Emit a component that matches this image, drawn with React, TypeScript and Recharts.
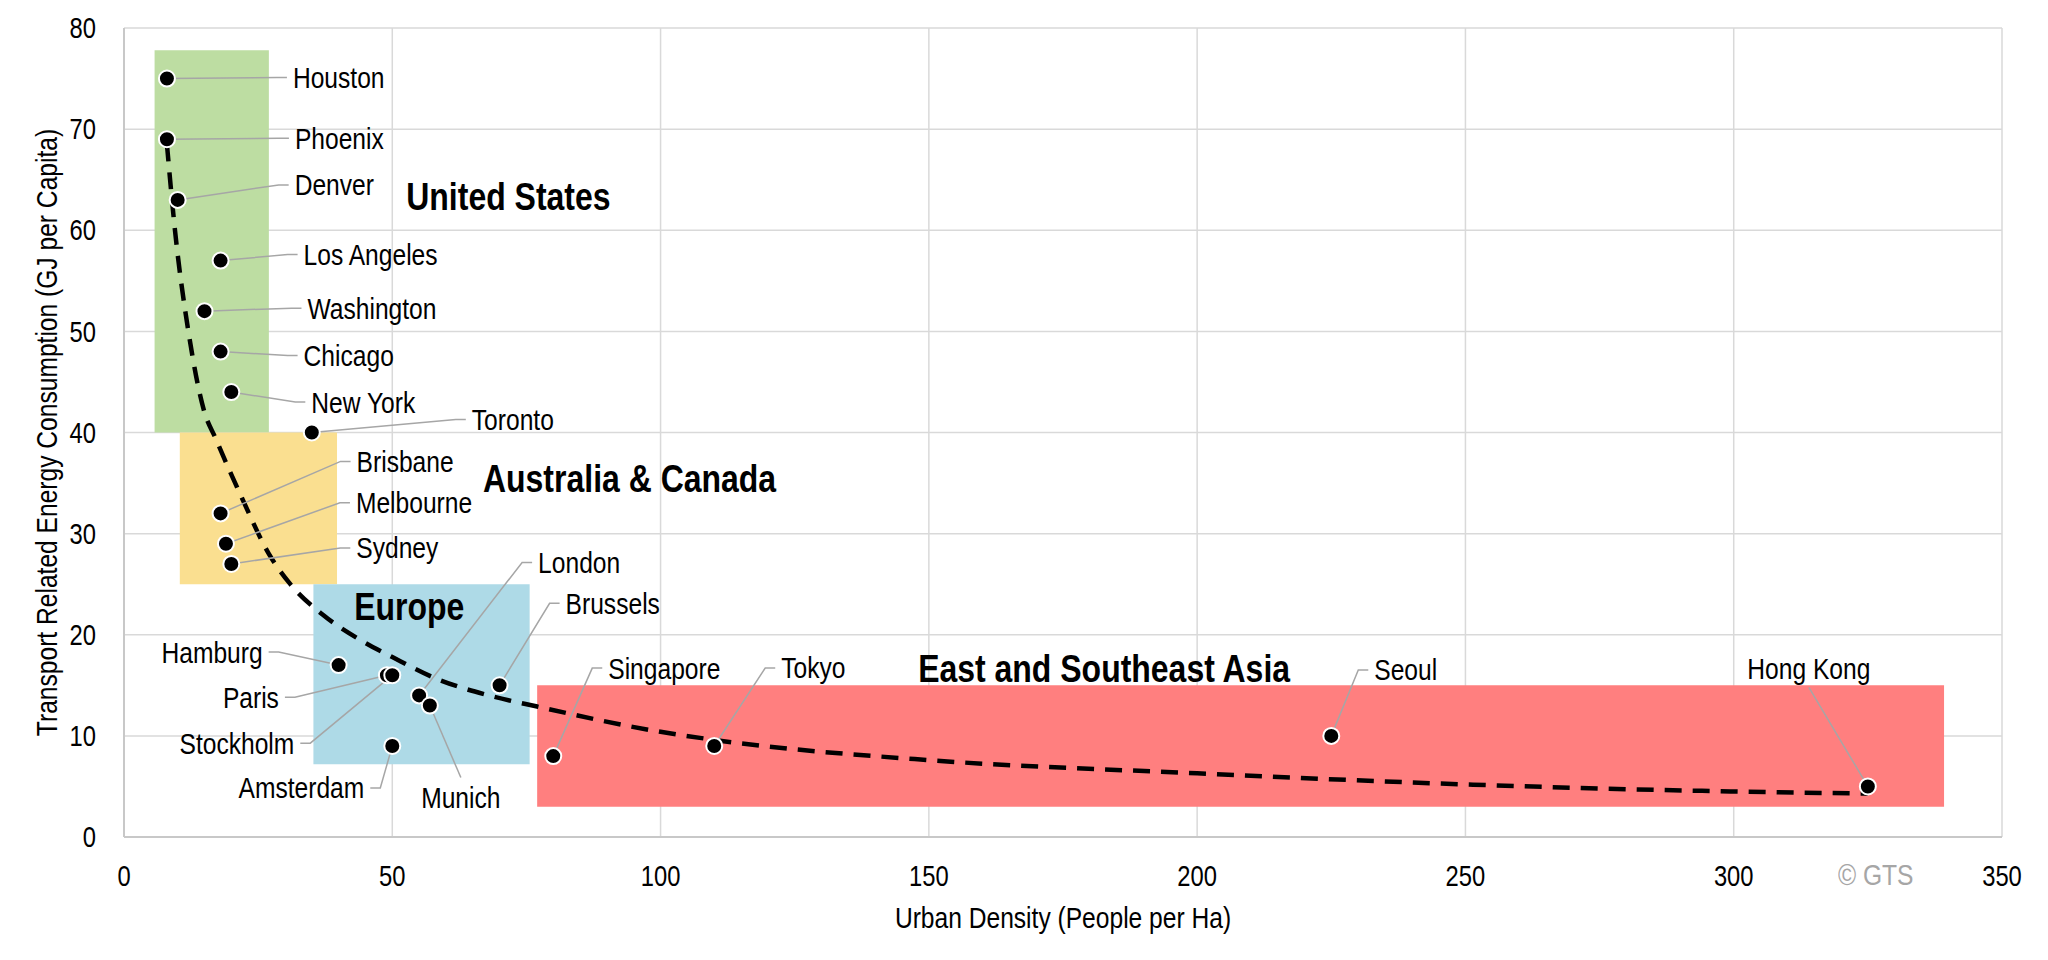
import { CartesianGrid, ReferenceArea, Scatter, ScatterChart, XAxis, YAxis } from 'recharts';

// city data
const cities = [
  'Houston', 'Phoenix', 'Denver', 'Los Angeles', 'Washington', 'Chicago', 'New York', 'Toronto',
  'Brisbane', 'Melbourne', 'Sydney', 'London', 'Brussels', 'Hamburg', 'Paris', 'Stockholm',
  'Amsterdam', 'Munich', 'Singapore', 'Tokyo', 'Seoul', 'Hong Kong',
];
const density = [8, 8, 10, 18, 15, 18, 20, 35, 18, 19, 20, 55, 70, 40, 49, 50, 50, 57, 80, 110, 225, 325];
const energy = [75, 69, 63, 57, 52, 48, 44, 40, 32, 29, 27, 14, 15, 17, 16, 16, 9, 13, 8, 9, 10, 5];

// dashed trend curve, read at points along the line
const trendDensity = [8, 9.5, 12, 15, 17, 22, 27, 31, 37, 44, 50, 58, 68, 77, 100, 110, 150, 200, 250, 300, 325];
const trendEnergy = [68.5, 60, 50, 42, 39.5, 33.5, 28, 25, 22, 19.5, 17.8, 15.7, 14, 12.9, 10.4, 9.6, 7.6, 6.3, 5.2, 4.5, 4.3];

// regional boxes
const regions = ['United States', 'Australia & Canada', 'Europe', 'East and Southeast Asia'];
const regionX1 = [5.7, 10.4, 35.3, 77];
const regionX2 = [27, 39.7, 75.6, 339.2];
const regionY1 = [40, 25, 7.2, 3];
const regionY2 = [77.8, 40, 25, 15];
const regionTitleX = [52.6, 66.9, 42.9, 148];
const regionTitleY = [63.4, 35.5, 22.8, 16.7];

const xTicks = [0, 50, 100, 150, 200, 250, 300, 350];
const yTicks = [0, 10, 20, 30, 40, 50, 60, 70, 80];

const regionColors = ['#BDDDA2', '#FADF90', '#AEDAE7', '#FF7F7F'];

// label placement relative to the dot (px)
const placement: Record<string, { side: string; dx: number; dy: number }> = {
  Houston: { side: 'right', dx: 126, dy: -1 },
  Phoenix: { side: 'right', dx: 128, dy: -1 },
  Denver: { side: 'right', dx: 117, dy: -15 },
  'Los Angeles': { side: 'right', dx: 83, dy: -6 },
  Washington: { side: 'right', dx: 103, dy: -3 },
  Chicago: { side: 'right', dx: 83, dy: 4 },
  'New York': { side: 'right', dx: 80, dy: 10 },
  Toronto: { side: 'right', dx: 160, dy: -13 },
  Brisbane: { side: 'right', dx: 136, dy: -52 },
  Melbourne: { side: 'right', dx: 130, dy: -41 },
  Sydney: { side: 'right', dx: 125, dy: -16 },
  London: { side: 'right', dx: 119, dy: -133 },
  Brussels: { side: 'right', dx: 66, dy: -82 },
  Hamburg: { side: 'left', dx: -76, dy: -13 },
  Paris: { side: 'left', dx: -108, dy: 22 },
  Stockholm: { side: 'left', dx: -98, dy: 68 },
  Amsterdam: { side: 'left', dx: -28, dy: 42 },
  Munich: { side: 'below', dx: 31, dy: 92 },
  Singapore: { side: 'right', dx: 55, dy: -88 },
  Tokyo: { side: 'right', dx: 67, dy: -78 },
  Seoul: { side: 'right', dx: 43, dy: -66 },
  'Hong Kong': { side: 'above', dx: -59, dy: -118 },
};

// no Arial Narrow here, so squeeze Liberation Sans horizontally
const FONT = "'Liberation Sans', Arial, sans-serif";
const SQUEEZE = 0.82;

const cityData = cities.map((name, i) => ({ name, x: density[i], y: energy[i] }));
const trendData = trendDensity.map((x, i) => ({ x, y: trendEnergy[i] }));
const titleData = regions.map((name, i) => ({ name, x: regionTitleX[i], y: regionTitleY[i] }));

function NText({ x, y, anchor = 'start', size = 30, bold = false, fill = '#000', dy = '0.35em', children }: any) {
  return (
    <g transform={`translate(${x},${y}) scale(${SQUEEZE},1)`}>
      <text x={0} y={0} dy={dy} textAnchor={anchor} fontFamily={FONT} fontSize={size} fontWeight={bold ? 'bold' : 'normal'} fill={fill}>
        {children}
      </text>
    </g>
  );
}

function Leader(props: any) {
  const { cx, cy, payload } = props;
  const p = placement[payload.name];
  const lx = cx + p.dx;
  const ly = cy + p.dy;
  let pts: number[][] = [];
  let anchor = 'start';
  if (p.side === 'right') {
    pts = [[cx, cy], [lx - 16, ly], [lx - 6, ly]];
  } else if (p.side === 'left') {
    pts = [[cx, cy], [lx + 16, ly], [lx + 6, ly]];
    anchor = 'end';
  } else if (p.side === 'below') {
    pts = [[cx, cy], [lx, ly - 20]];
    anchor = 'middle';
  } else {
    pts = [[cx, cy], [lx, ly + 19]];
    anchor = 'middle';
  }
  return (
    <g>
      <polyline points={pts.map((q) => q.join(',')).join(' ')} fill="none" stroke="#a6a6a6" strokeWidth={1.5} />
      <NText x={lx} y={ly} anchor={anchor}>
        {payload.name}
      </NText>
    </g>
  );
}

function Dot(props: any) {
  return <circle cx={props.cx} cy={props.cy} r={8} fill="#000" stroke="#fff" strokeWidth={2} />;
}

function RegionTitle(props: any) {
  return (
    <NText x={props.cx} y={props.cy} size={39} bold>
      {props.payload.name}
    </NText>
  );
}

export default function App() {
  return (
    <div style={{ position: 'absolute', left: 0, top: 0, width: 2048, height: 960, background: '#fff' }}>
      <ScatterChart width={2048} height={960} margin={{ top: 28, right: 46, bottom: 0, left: 0 }}>
        {regions.map((r, i) => (
          <ReferenceArea
            key={r}
            x1={regionX1[i]}
            x2={regionX2[i]}
            y1={regionY1[i]}
            y2={regionY2[i]}
            fill={regionColors[i]}
            fillOpacity={1}
            stroke="none"
            ifOverflow="visible"
          />
        ))}
        <CartesianGrid stroke="#d9d9d9" strokeWidth={1.5} />
        <XAxis
          type="number"
          dataKey="x"
          domain={[0, 350]}
          ticks={xTicks}
          height={123}
          tickSize={0}
          tickMargin={28}
          axisLine={{ stroke: '#c8c8c8', strokeWidth: 2 }}
          tick={(tp: any) => (
            <NText x={tp.x} y={tp.y} anchor="middle" size={29} dy="0.71em">
              {tp.payload.value}
            </NText>
          )}
          label={{
            content: (lp: any) => (
              <NText x={lp.viewBox.x + lp.viewBox.width / 2} y={lp.viewBox.y + 80} anchor="middle">
                Urban Density (People per Ha)
              </NText>
            ),
          }}
        />
        <YAxis
          type="number"
          dataKey="y"
          domain={[0, 80]}
          ticks={yTicks}
          width={124}
          tickSize={0}
          tickMargin={28}
          axisLine={{ stroke: '#c8c8c8', strokeWidth: 2 }}
          tick={(tp: any) => (
            <NText x={tp.x} y={tp.y} anchor="end" size={29}>
              {tp.payload.value}
            </NText>
          )}
          label={{
            content: (lp: any) => {
              const cx = 46;
              const cy = lp.viewBox.y + lp.viewBox.height / 2;
              return (
                <g transform={`translate(${cx},${cy}) rotate(-90) scale(${SQUEEZE},1)`}>
                  <text x={0} y={0} dy="0.35em" textAnchor="middle" fontFamily={FONT} fontSize={30} fill="#000">
                    Transport Related Energy Consumption (GJ per Capita)
                  </text>
                </g>
              );
            },
          }}
        />
        <Scatter
          data={trendData}
          line={{ stroke: '#000', strokeWidth: 4.5, strokeDasharray: '17 11' }}
          lineJointType="monotoneX"
          shape={() => <g />}
          isAnimationActive={false}
        />
        <Scatter data={cityData} shape={Leader} isAnimationActive={false} />
        <Scatter data={cityData} shape={Dot} isAnimationActive={false} />
        <Scatter data={titleData} shape={RegionTitle} isAnimationActive={false} />
      </ScatterChart>
      <div
        style={{
          position: 'absolute',
          left: 1838,
          top: 858,
          fontFamily: FONT,
          fontSize: 30,
          color: '#a6a6a6',
          whiteSpace: 'nowrap',
          transform: `scaleX(${SQUEEZE})`,
          transformOrigin: 'left top',
        }}
      >
        © GTS
      </div>
    </div>
  );
}
